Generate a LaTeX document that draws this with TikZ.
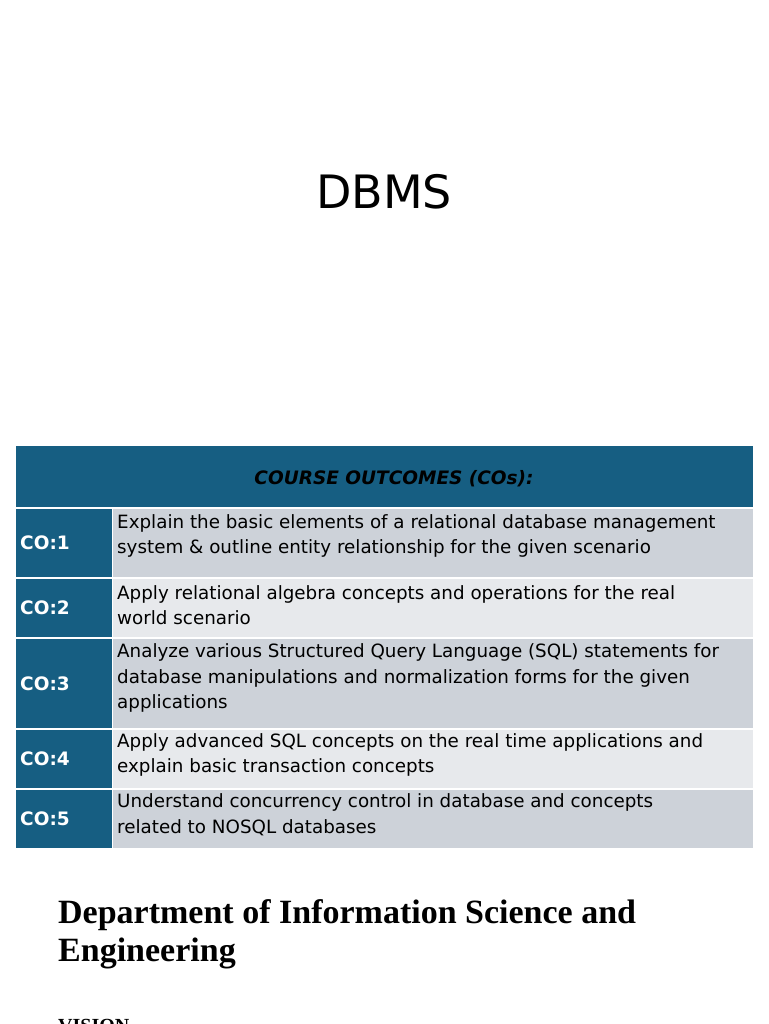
\documentclass[tikz,border=0pt]{standalone}
\usepackage{fontspec}
\setmainfont{DejaVu Sans}
\newfontfamily\serifb{Liberation Serif}
\definecolor{hdr}{HTML}{165E82}
\definecolor{rowa}{HTML}{CDD2D9}
\definecolor{rowb}{HTML}{E7E9EC}
\begin{document}
\begin{tikzpicture}[x=1pt,y=-1pt,
  cell/.style={anchor=west,align=left,inner sep=0pt,font=\fontsize{18.3}{25.6}\selectfont},
  colab/.style={anchor=west,inner sep=0pt,text=white,font=\fontsize{18.5}{22}\selectfont\bfseries}]
\useasboundingbox[fill=white] (0,0) rectangle (768,1024);
\node (title) at (384,192) {\fontsize{46}{50}\selectfont DBMS};
\fill[hdr] (16,446) rectangle (753,507);
\node[font=\fontsize{18.5}{22}\selectfont\bfseries\itshape] (hd) at (394,479) {COURSE OUTCOMES (COs):};
\foreach \t/\b/\c/\n in {509/577/rowa/1,579/637/rowb/2,639/728/rowa/3,730/788/rowb/4,790/848/rowa/5}{
  \fill[hdr] (16,\t) rectangle (112,\b);
  \fill[\c] (113,\t) rectangle (753,\b);
  \node[colab] (co\n) at (20,{(\t+\b)/2}) {CO:\n};
}
\node[cell] (d1) at (117,536) {Explain the basic elements of a relational database management\\system \& outline entity relationship for the given scenario};
\node[cell] (d2) at (117,605) {Apply relational algebra concepts and operations for the real\\world scenario};
\node[cell] (d3) at (117,678) {Analyze various Structured Query Language (SQL) statements for\\database manipulations and normalization forms for the given\\applications};
\node[cell] (d4) at (117,755) {Apply advanced SQL concepts on the real time applications and\\explain basic transaction concepts};
\node[cell] (d5) at (117,815) {Understand concurrency control in database and concepts\\related to NOSQL databases};
\node[anchor=base west,inner sep=0pt,font=\serifb\bfseries\fontsize{34}{38}\selectfont] (dept1) at (58,923) {Department of Information Science and};
\node[anchor=base west,inner sep=0pt,font=\serifb\bfseries\fontsize{34}{38}\selectfont] (dept2) at (58,961) {Engineering};
\node[anchor=base west,inner sep=0pt,font=\serifb\bfseries\fontsize{20}{22}\selectfont] (vis) at (58,1032) {VISION};
\end{tikzpicture}
\end{document}
